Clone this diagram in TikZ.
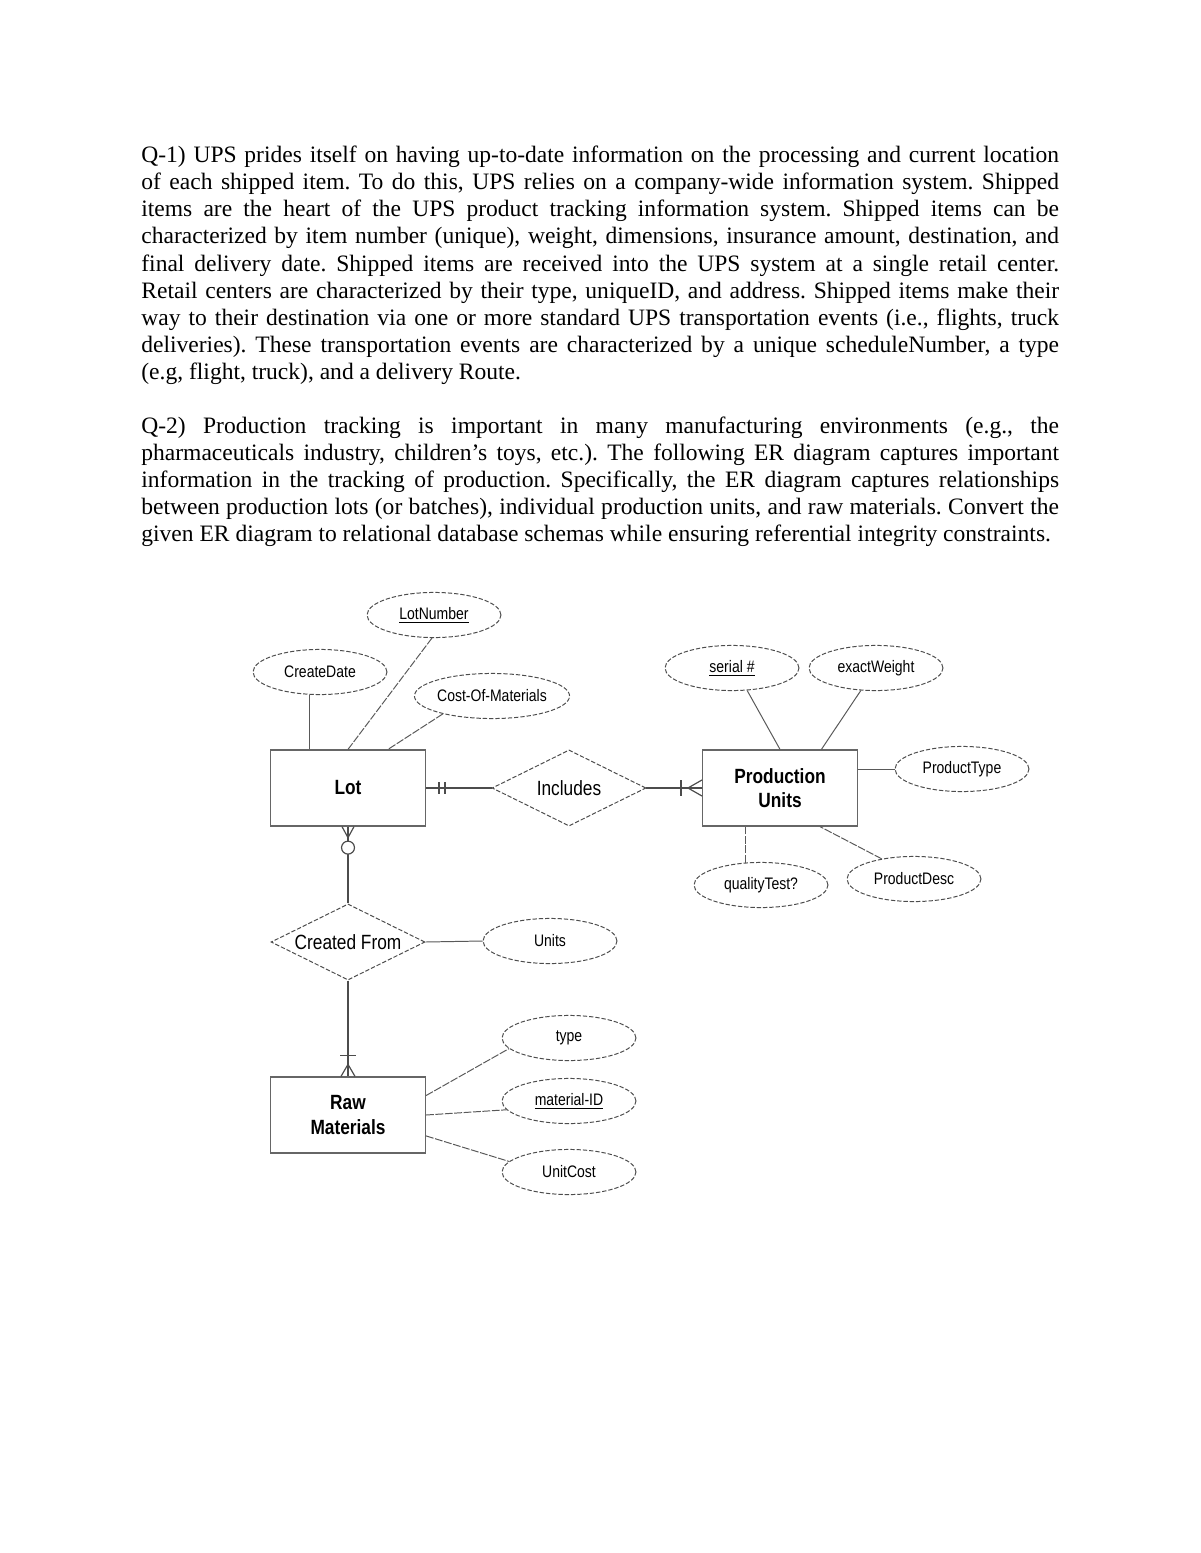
\documentclass[tikz,border=0pt]{standalone}
\usepackage{fontspec}
\setmainfont{Liberation Serif}
\newfontfamily\dsans[FakeStretch=0.84]{Liberation Sans}
\usetikzlibrary{shapes.geometric,calc}
\frenchspacing
\tikzset{
  entity/.style={draw=black!60,line width=0.6pt,rectangle,minimum width=79pt,minimum height=38.8pt,inner sep=0pt,align=center,font=\dsans\fontsize{10.5}{12.5}\selectfont\bfseries},
  attrib/.style={draw=black!70,line width=0.5pt,dash pattern=on 2.2pt off 1pt,ellipse,minimum width=68.3pt,minimum height=23pt,inner sep=0pt,font=\dsans\fontsize{8.5}{10}\selectfont},
  relbox/.style={draw=black!70,line width=0.5pt,dash pattern=on 2.2pt off 1pt,diamond,aspect=2,minimum width=78.5pt,minimum height=38.8pt,inner sep=0pt,font=\dsans\fontsize{10.5}{12}\selectfont},
  attline/.style={draw=black!65,line width=0.5pt,dash pattern=on 4pt off 0.8pt},
  solidatt/.style={draw=black!65,line width=0.5pt},
  relline/.style={draw=black!70,line width=0.6pt},
  txt/.style={anchor=base west,inner sep=0pt,font=\fontsize{12}{13.8}\selectfont\frenchspacing}
}
\newcommand\jline[3]{\node[txt] (#1) at (141,#2) {\hbox to 468pt{#3}};}
\begin{document}
\begin{tikzpicture}[x=0.51pt,y=-0.51pt]
\useasboundingbox[fill=white] (0,0) rectangle (1200,1553);
% paragraph 1
\jline{p1}{163}{Q-1) UPS prides itself on having up-to-date information on the processing and current location}
\jline{p2}{190}{of each shipped item. To do this, UPS relies on a company-wide information system. Shipped}
\jline{p3}{217}{items are the heart of the UPS product tracking information system. Shipped items can be}
\jline{p4}{244}{characterized by item number (unique), weight, dimensions, insurance amount, destination, and}
\jline{p5}{271}{final delivery date. Shipped items are received into the UPS system at a single retail center.}
\jline{p6}{298}{Retail centers are characterized by their type, uniqueID, and address. Shipped items make their}
\jline{p7}{325}{way to their destination via one or more standard UPS transportation events (i.e., flights, truck}
\jline{p8}{352}{deliveries). These transportation events are characterized by a unique scheduleNumber, a type}
\node[txt] (p9) at (141,379) {(e.g, flight, truck), and a delivery Route.};
% paragraph 2
\jline{q1}{433}{Q-2) Production tracking is important in many manufacturing environments (e.g., the}
\jline{q2}{460}{pharmaceuticals industry, children’s toys, etc.). The following ER diagram captures important}
\jline{q3}{487}{information in the tracking of production. Specifically, the ER diagram captures relationships}
\jline{q4}{514}{between production lots (or batches), individual production units, and raw materials. Convert the}
\node[txt] (q5) at (141,541) {given ER diagram to relational database schemas while ensuring referential integrity constraints.};

% entities
\node[entity] (Lot) at (348,788) {Lot};
\node[entity] (PU) at (780,788) {Production\\Units};
\node[entity] (RM) at (348,1115) {Raw\\Materials};
% relationships
\node[relbox] (Inc) at (569,788) {Includes};
\node[relbox] (CF) at (348,942) {Created From};
% attributes
\node[attrib] (LotNumber) at (434,615) {\underline{LotNumber}};
\node[attrib] (CreateDate) at (320,672) {CreateDate};
\node[attrib] (Cost) at (492,696) {Cost-Of-Materials};
\node[attrib] (Serial) at (732,668) {\underline{serial \#}};
\node[attrib] (Weight) at (876,668) {exactWeight};
\node[attrib] (PType) at (962,769) {ProductType};
\node[attrib] (QTest) at (761,885) {qualityTest?};
\node[attrib] (PDesc) at (914,879) {ProductDesc};
\node[attrib] (Units) at (550,941) {Units};
\node[attrib] (Type) at (569,1038) {type};
\node[attrib] (MatID) at (569,1101) {\underline{material-ID}};
\node[attrib] (UCost) at (569,1172) {UnitCost};

% attribute lines
\draw[solidatt] (CreateDate.-115) -- (CreateDate.-115 |- Lot.north);
\draw[attline] (LotNumber.-95) -- (Lot.north);
\draw[attline] (Cost.-160) -- (Lot.44);
\draw[solidatt] (Serial.-56) -- (PU.north);
\draw[solidatt] (Weight.-124) -- (PU.43);
\draw[solidatt] (PType.west) -- (PType.west -| PU.east);
\draw[attline] (QTest.125) -- (QTest.125 |- PU.south);
\draw[attline] (PDesc.148) -- (PU.-44);
\draw[solidatt] (CF.east) -- (Units.west);
\draw[attline] (RM.14) -- (Type.-170);
\draw[attline] (RM.east) -- (MatID.188);
\draw[attline] (RM.-15) -- (UCost.170);

% relationship lines
\draw[relline] (Lot.east) -- (Inc.west);
\draw[relline] (Inc.east) -- (PU.west);
\draw[relline] (Lot.south) -- (CF.north);
\draw[relline] (CF.south) -- (RM.north);
% cardinality marks
\draw[relline] ($(Lot.east)+(13,-6)$) -- ++(0,12);
\draw[relline] ($(Lot.east)+(19,-6)$) -- ++(0,12);
\draw[relline] ($(PU.west)+(-21,-8)$) -- ++(0,16);
\draw[relline] ($(PU.west)+(0,-8)$) -- ($(PU.west)+(-14,0)$) -- ($(PU.west)+(0,8)$);
\draw[relline] ($(Lot.south)+(-6,0)$) -- ($(Lot.south)+(0,11)$) -- ($(Lot.south)+(6,0)$);
\draw[relline,fill=white] ($(Lot.south)+(0,21)$) circle[radius=3.3pt];
\draw[relline] ($(RM.north)+(-8,-21)$) -- ++(16,0);
\draw[relline] ($(RM.north)+(-7,0)$) -- ($(RM.north)+(0,-12)$) -- ($(RM.north)+(7,0)$);
\end{tikzpicture}
\end{document}
